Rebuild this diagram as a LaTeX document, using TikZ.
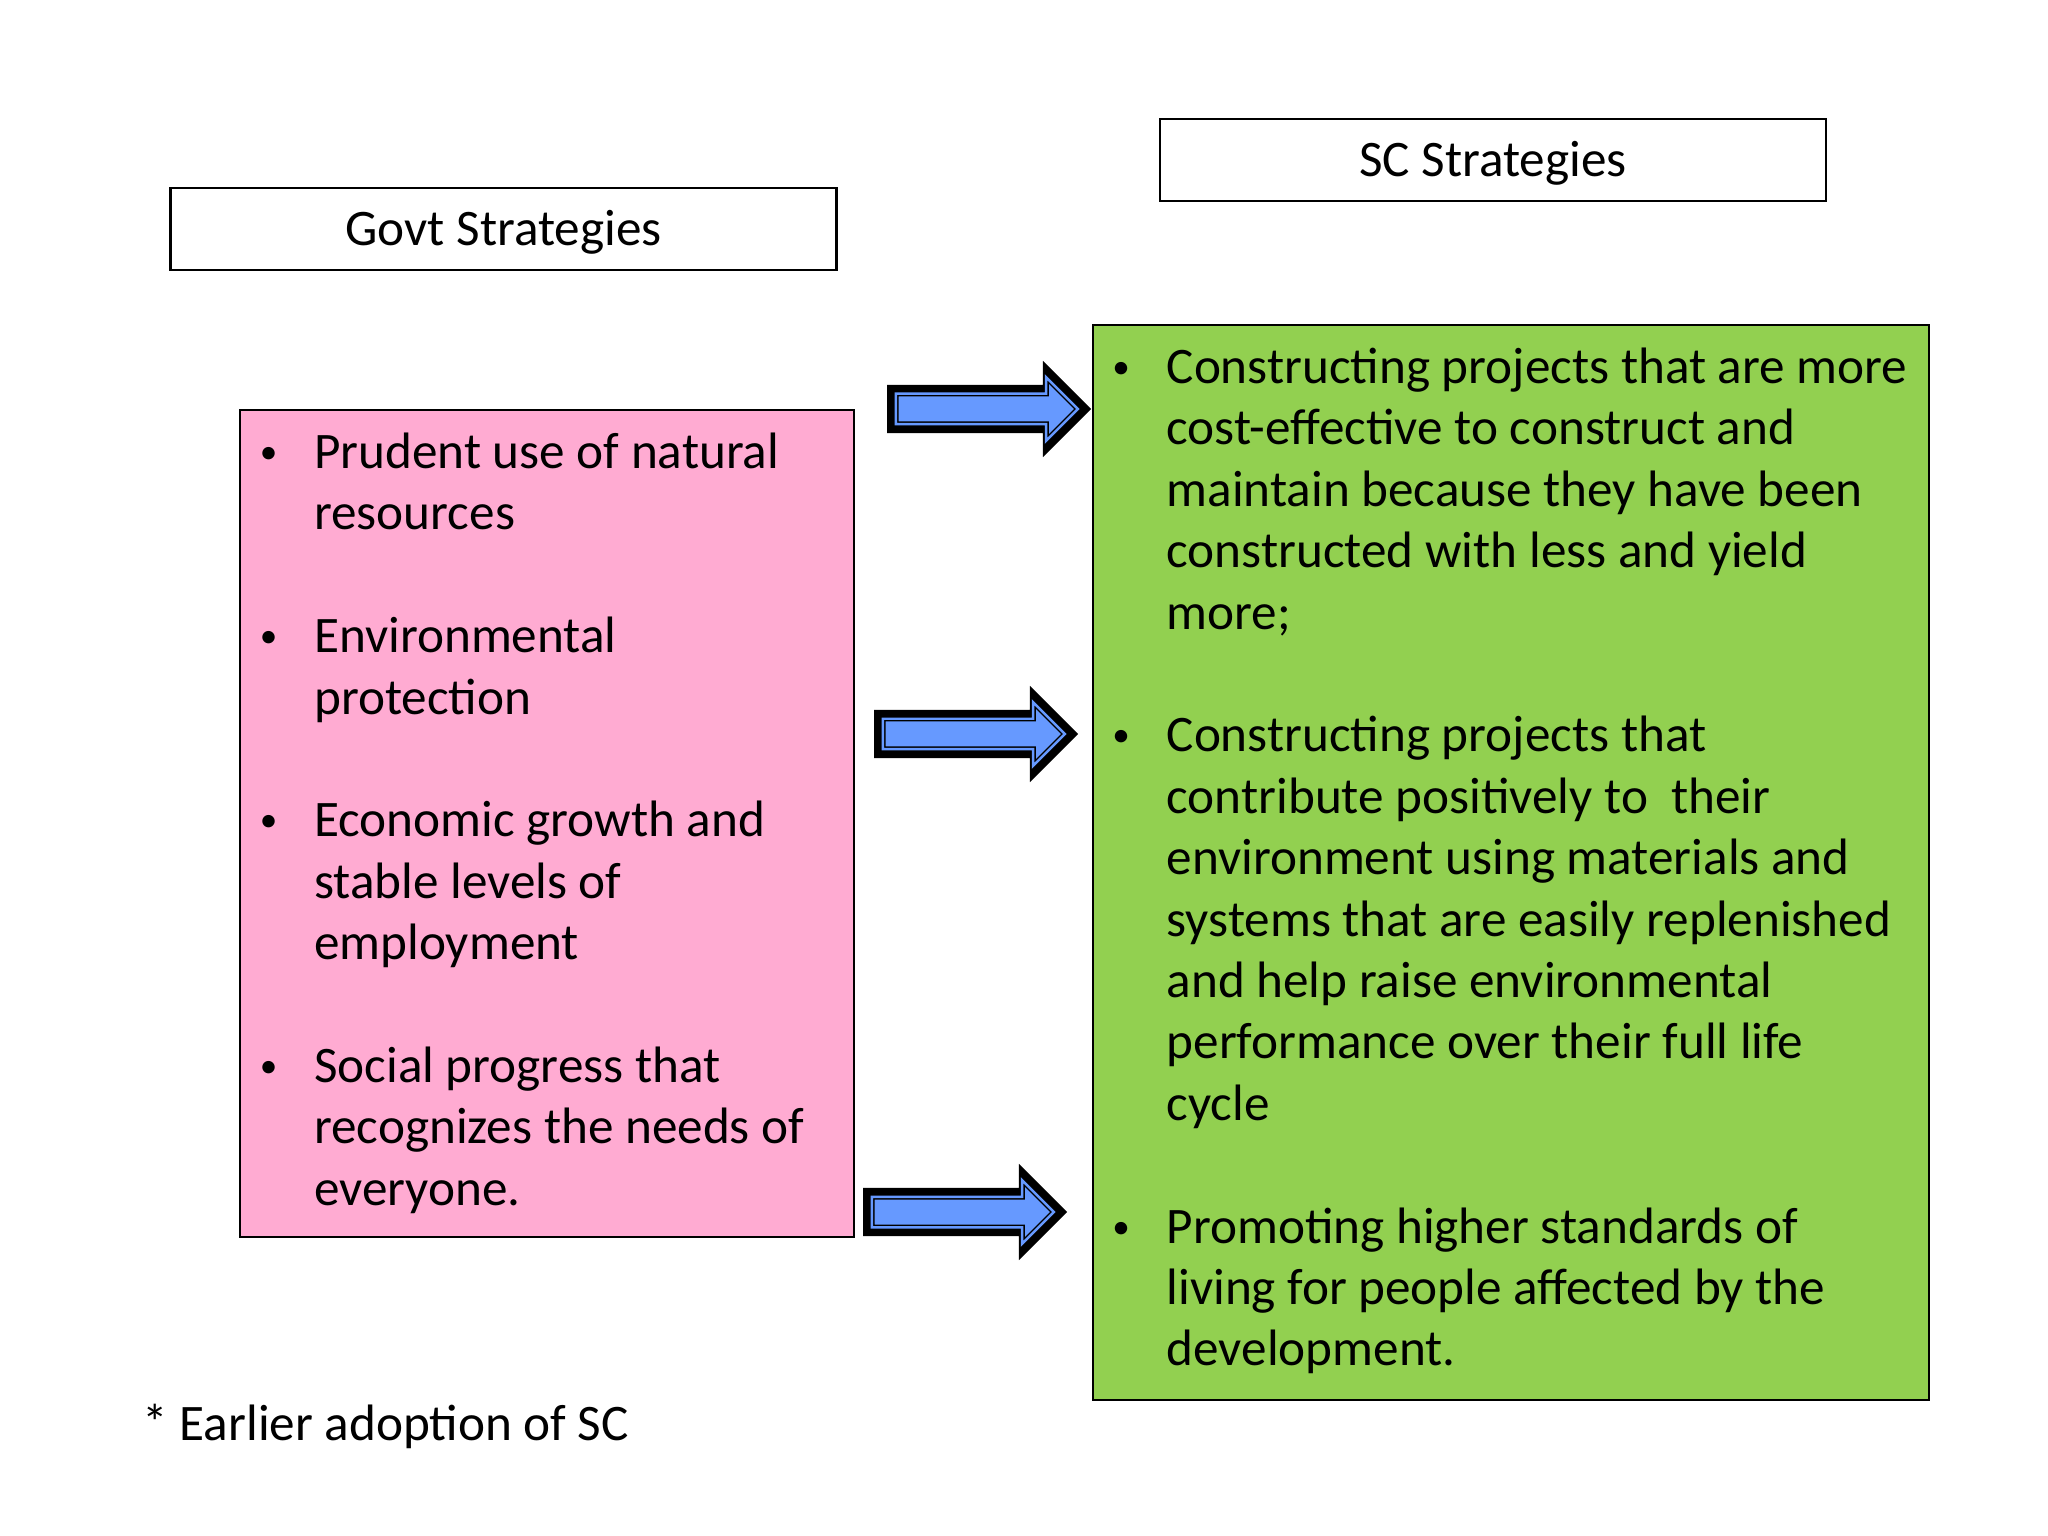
\documentclass[tikz,border=0pt]{standalone}
\usepackage{fontspec}
\setmainfont{Carlito}
\usetikzlibrary{shapes.arrows}
\definecolor{govtpink}{HTML}{FFABD2}
\definecolor{scgreen}{HTML}{92D050}
\definecolor{arrowblue}{HTML}{6699FF}
\newcommand{\slidefont}{\fontsize{14.57pt}{17.47pt}\selectfont}
\newcommand{\pt}{\makebox[0.13cm][c]{\raisebox{0.05cm}{\fontsize{10pt}{10pt}\selectfont\textbullet}}}

\begin{document}
\begin{tikzpicture}[y=-1cm,
    titlebox/.style={draw, line width=0.6pt, minimum width=6.66cm,
      minimum height=0.82cm, inner sep=0pt, font=\slidefont,
      text height=0.38cm, text depth=0.05cm},
    listbox/.style={draw, line width=0.6pt, anchor=north west, inner sep=0pt},
    itemtext/.style={anchor=base west, inner sep=0pt, font=\slidefont},
    arrowback/.style={single arrow, anchor=tip, fill=black,
      single arrow head extend=0.24cm, single arrow tip angle=90,
      inner sep=0pt, text height=0.47cm, text depth=0pt, minimum height=2.04cm},
    bigarrow/.style={single arrow, anchor=tip, fill=arrowblue, draw=black,
      line width=0.015cm, double=arrowblue, double distance=0.025cm,
      single arrow head extend=0.165cm, single arrow tip angle=90,
      inner sep=0pt, text height=0.29cm, text depth=0pt, minimum height=1.82cm}]
      \useasboundingbox (0,0) rectangle (20.48,15.36);

      % Headings
      \node[titlebox] (govttitle) at (5.035,2.29) {Govt Strategies};
      \node[titlebox] (sctitle) at (14.93,1.60) {SC Strategies};

      % Boxes
      \node[listbox, fill=govtpink, minimum width=6.14cm,
        minimum height=8.27cm] (govtlist) at (2.39,4.09) {};
      \node[listbox, fill=scgreen, minimum width=8.36cm,
        minimum height=10.75cm] (sclist) at (10.92,3.24) {};

      % Govt points
      \node[itemtext] (govtitems) at (2.615,4.686) {%
        \begin{tabular}[t]{@{}p{0.52cm}@{}l@{}}
          \pt & Prudent use of natural\\
              & resources\\
              & \\
          \pt & Environmental\\
              & protection\\
              & \\
          \pt & Economic growth and\\
              & stable levels of\\
              & employment\\
              & \\
          \pt & Social progress that\\
              & recognizes the needs of\\
              & everyone.
        \end{tabular}};

      % SC points
      \node[itemtext] (scitems) at (11.14,3.836) {%
        \begin{tabular}[t]{@{}p{0.52cm}@{}l@{}}
          \pt & Constructing projects that are more\\
              & cost-effective to construct and\\
              & maintain because they have been\\
              & constructed with less and yield\\
              & more;\\
              & \\
          \pt & Constructing projects that\\
              & contribute positively to\ \ their\\
              & environment using materials and\\
              & systems that are easily replenished\\
              & and help raise environmental\\
              & performance over their full life\\
              & cycle\\
              & \\
          \pt & Promoting higher standards of\\
              & living for people affected by the\\
              & development.
        \end{tabular}};

      % Block arrows (black outline behind, blue arrow on top)
      \node[arrowback] (arrowoneback) at (10.92,4.09) {};
      \node[bigarrow] (arrowone) at (10.79,4.09) {};
      \node[arrowback] (arrowtwoback) at (10.79,7.34) {};
      \node[bigarrow] (arrowtwo) at (10.66,7.34) {};
      \node[arrowback] (arrowthreeback) at (10.68,12.12) {};
      \node[bigarrow] (arrowthree) at (10.55,12.12) {};

      % Note
      \node[itemtext] (footnote) at (1.42,14.40) {* Earlier adoption of SC};
\end{tikzpicture}
\end{document}
